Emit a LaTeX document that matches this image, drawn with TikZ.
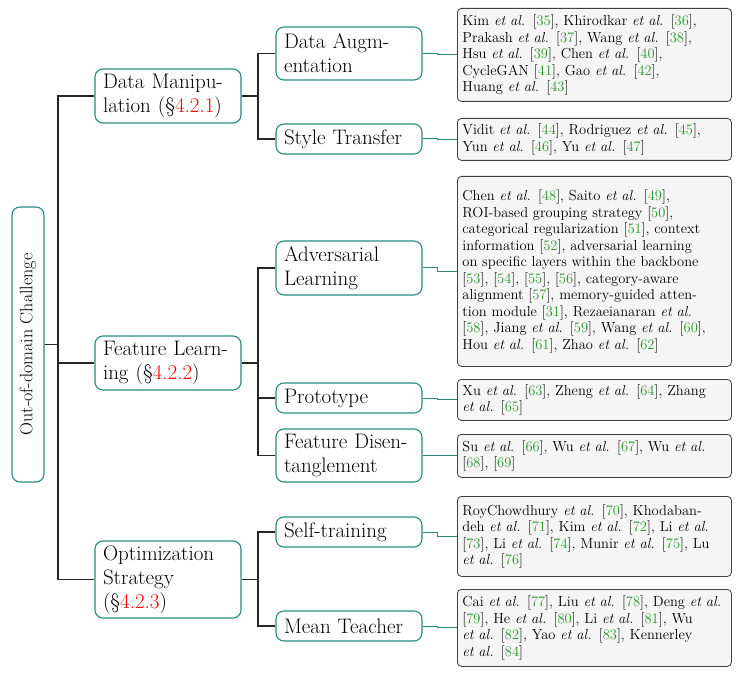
\documentclass[tikz,border=0pt]{standalone}
\usepackage{fontspec}
\usepackage{xcolor}
\definecolor{tealb}{RGB}{38,140,128}
\definecolor{citeg}{RGB}{40,150,40}
\definecolor{leaff}{RGB}{245,245,245}
\newcommand{\ea}{\textit{et al.}}
\newcommand{\cg}[1]{[\textcolor{citeg}{#1}]}
\newcommand{\sr}[1]{(\S\textcolor{red}{#1})}
\begin{document}
\begin{tikzpicture}[x=1pt,y=-1pt,
  midbox/.style={draw=tealb,line width=1.1pt,rounded corners=8pt,fill=white,inner sep=0pt,font=\fontsize{21}{24}\selectfont,align=left},
  leafbox/.style={draw=black!75,line width=0.8pt,rounded corners=4pt,fill=leaff,anchor=north west,minimum width=274pt,text width=264pt,inner sep=0pt,inner xsep=5pt,font=\fontsize{14.5}{16.5}\selectfont,align=left},
  tree/.style={draw=black!85,line width=1.1pt},
  leafline/.style={draw=tealb,line width=1pt}]
\useasboundingbox (0,0) rectangle (743,692);
\node[midbox,minimum width=275pt,minimum height=32pt,rotate=90,align=center,font=\fontsize{18}{22}\selectfont] (root) at (28,344.5) {Out-of-domain Challenge};
\node[midbox,minimum width=146pt,minimum height=54pt,text width=130pt] (dm) at (168,96) {Data Manipu-\\lation \sr{4.2.1}};
\node[midbox,minimum width=146pt,minimum height=54pt,text width=130pt] (fl) at (168,363) {Feature Learn-\\ing \sr{4.2.2}};
\node[midbox,minimum width=146pt,minimum height=77pt,text width=130pt] (os) at (168,579.5) {Optimization\\Strategy\\\sr{4.2.3}};
\node[midbox,minimum width=146pt,minimum height=53pt,text width=130pt] (da) at (349,53.5) {Data Augm-\\entation};
\node[midbox,minimum width=146pt,minimum height=30pt,text width=130pt] (st) at (349,139) {Style Transfer};
\node[midbox,minimum width=146pt,minimum height=54pt,text width=130pt] (al) at (349,268) {Adversarial\\Learning};
\node[midbox,minimum width=146pt,minimum height=30pt,text width=130pt] (pr) at (349,398) {Prototype};
\node[midbox,minimum width=146pt,minimum height=53pt,text width=130pt] (fd) at (349,455.5) {Feature Disen-\\tanglement};
\node[midbox,minimum width=146pt,minimum height=30pt,text width=130pt] (sf) at (349,532) {Self-training};
\node[midbox,minimum width=146pt,minimum height=30pt,text width=130pt] (mt) at (349,626) {Mean Teacher};
\node[leafbox,minimum height=93pt] (l1) at (457,8) {Kim \ea{} \cg{35}, Khirodkar \ea{} \cg{36},\\Prakash \ea{} \cg{37}, Wang \ea{} \cg{38},\\Hsu \ea{} \cg{39}, Chen \ea{} \cg{40},\\CycleGAN \cg{41}, Gao \ea{} \cg{42},\\Huang \ea{} \cg{43}};
\node[leafbox,minimum height=42pt] (l2) at (457,118) {Vidit \ea{} \cg{44}, Rodriguez \ea{} \cg{45},\\Yun \ea{} \cg{46}, Yu \ea{} \cg{47}};
\node[leafbox,minimum height=190pt] (l3) at (457,176) {Chen \ea{} \cg{48}, Saito \ea{} \cg{49},\\ROI-based grouping strategy \cg{50},\\categorical regularization \cg{51}, context\\information \cg{52}, adversarial learning\\on specific layers within the backbone\\\cg{53}, \cg{54}, \cg{55}, \cg{56}, category-aware\\alignment \cg{57}, memory-guided atten-\\tion module \cg{31}, Rezaeianaran \ea{}\\\cg{58}, Jiang \ea{} \cg{59}, Wang \ea{} \cg{60},\\Hou \ea{} \cg{61}, Zhao \ea{} \cg{62}};
\node[leafbox,minimum height=41pt] (l4) at (457,379) {Xu \ea{} \cg{63}, Zheng \ea{} \cg{64}, Zhang\\\ea{} \cg{65}};
\node[leafbox,minimum height=43pt] (l5) at (457,434) {Su \ea{} \cg{66}, Wu \ea{} \cg{67}, Wu \ea{}\\\cg{68}, \cg{69}};
\node[leafbox,minimum height=80pt] (l6) at (457,496) {RoyChowdhury \ea{} \cg{70}, Khodaban-\\deh \ea{} \cg{71}, Kim \ea{} \cg{72}, Li \ea{}\\\cg{73}, Li \ea{} \cg{74}, Munir \ea{} \cg{75}, Lu\\\ea{} \cg{76}};
\node[leafbox,minimum height=77pt] (l7) at (457,589) {Cai \ea{} \cg{77}, Liu \ea{} \cg{78}, Deng \ea{}\\\cg{79}, He \ea{} \cg{80}, Li \ea{} \cg{81}, Wu\\\ea{} \cg{82}, Yao \ea{} \cg{83}, Kennerley\\\ea{} \cg{84}};
% tree edges
\coordinate (j0) at (58,0);
\foreach \c in {dm,fl,os} \draw[tree] (root.south) -- (j0 |- root.south) |- (\c.west);
\coordinate (j1) at (258,0);
\foreach \p/\c in {dm/da,dm/st,fl/al,fl/pr,fl/fd,os/sf,os/mt} \draw[tree] (\p.east) -- (j1 |- \p.east) |- (\c.west);
\foreach \a/\b in {da/l1,st/l2,al/l3,pr/l4,fd/l5,sf/l6,mt/l7} \draw[leafline] (\a.east) -- ++(15,0) |- (\b.west);
\end{tikzpicture}
\end{document}
